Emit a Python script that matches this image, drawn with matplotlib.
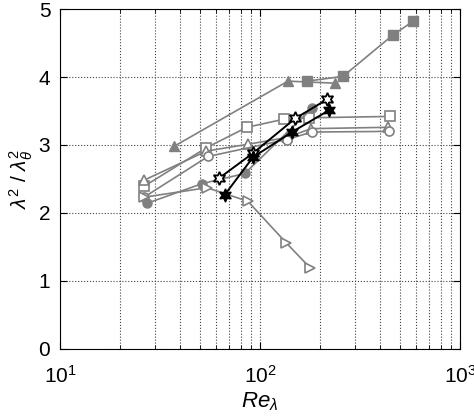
import matplotlib
matplotlib.use("Agg")
import matplotlib.pyplot as plt
from matplotlib.ticker import LogLocator

plt.rcParams['font.family'] = ['Liberation Sans', 'DejaVu Sans']
plt.rcParams['mathtext.fontset'] = 'custom'
plt.rcParams['mathtext.rm'] = 'Liberation Sans'
plt.rcParams['mathtext.it'] = 'Liberation Sans:italic'
plt.rcParams['mathtext.bf'] = 'Liberation Sans:bold'

# ---- data ----
tri_f_re = [37.2, 138, 237]
tri_f_y = [2.98, 3.94, 3.91]
sq_f_re = [172, 260, 462, 582]
sq_f_y = [3.94, 4.01, 4.62, 4.82]
sq_o_re = [26.3, 54, 86, 132, 176, 447]
sq_o_y = [2.39, 2.96, 3.26, 3.38, 3.40, 3.42]
tri_o_re = [26.3, 54, 87, 136, 180, 437]
tri_o_y = [2.48, 2.91, 3.01, 3.11, 3.24, 3.26]
circ_o_re = [26.3, 55, 136, 182, 442]
circ_o_y = [2.23, 2.83, 3.08, 3.19, 3.20]
circ_f_re = [27.2, 51.3, 84, 182]
circ_f_y = [2.14, 2.43, 2.58, 3.54]
rtri_re = [26.3, 54.3, 87, 135, 178]
rtri_y = [2.23, 2.37, 2.17, 1.56, 1.19]
star_o_re = [62.4, 92.3, 150, 216]
star_o_y = [2.51, 2.88, 3.39, 3.67]
star_f_re = [66.8, 92.3, 144.5, 221]
star_f_y = [2.27, 2.82, 3.19, 3.51]

gray = '#808080'
fig = plt.figure(figsize=(4.74, 4.17), dpi=100)
ax = fig.add_axes([0.1266, 0.164, 0.8439, 0.814])

lw = 1.2
ms = 6.5
ax.plot(tri_f_re, tri_f_y, '-', color=gray, lw=lw, marker='^', ms=ms, mfc=gray, mec=gray)
ax.plot(sq_f_re, sq_f_y, '-', color=gray, lw=lw, marker='s', ms=ms, mfc=gray, mec=gray)
ax.plot(sq_o_re, sq_o_y, '-', color=gray, lw=lw, marker='s', ms=ms, mfc='white', mec=gray, mew=1.2)
ax.plot(tri_o_re, tri_o_y, '-', color=gray, lw=lw, marker='^', ms=ms+0.5, mfc='white', mec=gray, mew=1.2)
ax.plot(circ_o_re, circ_o_y, '-', color=gray, lw=lw, marker='o', ms=ms, mfc='white', mec=gray, mew=1.2)
ax.plot(circ_f_re, circ_f_y, '-', color=gray, lw=lw, marker='o', ms=ms, mfc=gray, mec=gray)
ax.plot(rtri_re, rtri_y, '-', color=gray, lw=lw, marker='>', ms=ms+0.5, mfc='white', mec=gray, mew=1.2)
ax.plot(star_o_re, star_o_y, '-', color='black', lw=1.4, marker=(6, 1, 0), ms=ms+3, mfc='white', mec='black', mew=1.3)
ax.plot(star_f_re, star_f_y, '-', color='black', lw=1.4, marker=(6, 1, 0), ms=ms+3, mfc='black', mec='black', mew=1.0)

ax.set_xscale('log')
ax.set_xlim(10, 1000)
ax.set_ylim(0, 5)
ax.set_yticks([0, 1, 2, 3, 4, 5])
ax.xaxis.set_major_locator(LogLocator(base=10, numticks=10))
ax.xaxis.set_minor_locator(LogLocator(base=10, subs=range(2, 10), numticks=10))

ax.grid(True, which='major', axis='both', linestyle=':', color='#444444', lw=0.8)
ax.grid(True, which='minor', axis='x', linestyle=':', color='#444444', lw=0.8)
ax.set_axisbelow(True)

ax.tick_params(which='both', direction='in', top=True, right=True)
ax.tick_params(axis='y', labelsize=15, pad=7)
ax.tick_params(axis='x', labelsize=15, pad=12)
ax.tick_params(which='major', length=5)
ax.tick_params(which='minor', length=3)
for s in ax.spines.values():
    s.set_linewidth(0.8)

ax.set_xlabel(r'$Re_{\lambda}$', fontsize=16, labelpad=2)
ax.set_ylabel(r'$\lambda^2\ /\ \lambda_{\theta}^2$', fontsize=15, va='center')
ax.yaxis.set_label_coords(-0.097, 0.5)

fig.savefig('out.png', dpi=100)
